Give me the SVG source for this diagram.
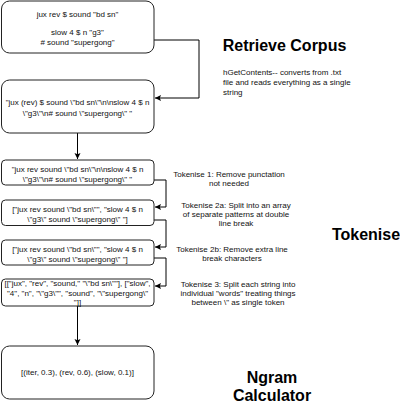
<svg xmlns="http://www.w3.org/2000/svg" width="400" height="405" viewBox="0 0 400 405">
<style>
.box{fill:#fff;stroke:#222;stroke-width:1}
.t{font-family:"Liberation Sans",Arial,sans-serif;font-size:8px;fill:#111;text-anchor:middle}
.d{font-family:"Liberation Sans",Arial,sans-serif;font-size:8px;fill:#111}
.h{font-family:"Liberation Sans",Arial,sans-serif;font-size:16px;font-weight:bold;fill:#000;text-anchor:middle}
.c{fill:none;stroke:#000;stroke-width:1}
</style>
<defs>
<marker id="arr" markerUnits="userSpaceOnUse" markerWidth="8" markerHeight="8" refX="6" refY="3" orient="auto">
<path d="M0,0 L6,3 L0,6 L1.2,3 z" fill="#000"/>
</marker>
</defs>
<rect width="400" height="405" fill="#fff"/>
<g id="connectors">
<path class="c" d="M154,40 H199 V98 H155" marker-end="url(#arr)"/>
<path class="c" d="M77.5,133 V159" marker-end="url(#arr)"/>
<path class="c" d="M154,180 H166 V207 H155" marker-end="url(#arr)"/>
<path class="c" d="M154,220 H166 V247 H155" marker-end="url(#arr)"/>
<path class="c" d="M154,258 H166 V286 H155" marker-end="url(#arr)"/>
<path class="c" d="M77.5,306 V345" marker-end="url(#arr)"/>
</g>
<g id="corpus">
<rect class="box" x="1.5" y="1" width="152.5" height="52" rx="8"/>
<text class="t" x="77.5" y="17">jux rev $ sound "bd sn"</text>
<text class="t" x="77.5" y="35">slow 4 $ n "g3"</text>
<text class="t" x="77.5" y="45"># sound "supergong"</text>
</g>
<g id="string">
<rect class="box" x="1.5" y="80" width="152.5" height="53" rx="8"/>
<text class="t" x="77.5" y="105">"jux (rev) $ sound \"bd sn\"\n\nslow 4 $ n</text>
<text class="t" x="77.5" y="115.5">\"g3\"\n# sound \"supergong\" "</text>
</g>
<g id="tok1">
<rect class="box" x="1.5" y="160" width="152.5" height="25" rx="4"/>
<text class="t" x="77.5" y="172">"jux rev sound \"bd sn\"\n\nslow 4 $ n</text>
<text class="t" x="77.5" y="182">\"g3\"\n# sound \"supergong\" "</text>
</g>
<g id="tok2a">
<rect class="box" x="1.5" y="200" width="152.5" height="25.5" rx="4"/>
<text class="t" x="77.5" y="212">["jux rev  sound \"bd sn\"", "slow 4 $ n</text>
<text class="t" x="77.5" y="221.5">\"g3\" sound \"supergong\" "]</text>
</g>
<g id="tok2b">
<rect class="box" x="1.5" y="240" width="152.5" height="25" rx="4"/>
<text class="t" x="77.5" y="252">["jux rev  sound \"bd sn\"", "slow 4 $ n</text>
<text class="t" x="77.5" y="261.5">\"g3\" sound \"supergong\" "]</text>
</g>
<g id="tok3">
<rect class="box" x="1.5" y="279" width="152.5" height="27" rx="4"/>
<text class="t" x="77.5" y="286">[["jux", "rev",  "sound,"  "\"bd sn\""], ["slow",</text>
<text class="t" x="77.5" y="295.5">"4",  "n", "\"g3\"", "sound", "\"supergong\"</text>
<text class="t" x="77.5" y="305">"]]</text>
</g>
<g id="ngram">
<rect class="box" x="1.5" y="346" width="152.5" height="53" rx="8"/>
<text class="t" x="77.5" y="375">[(iter, 0.3), (rev, 0.6), (slow, 0.1)]</text>
</g>
<g id="labels">
<text class="h" x="284.5" y="51">Retrieve Corpus</text>
<text class="d" x="223" y="74.5">hGetContents-- converts from .txt</text>
<text class="d" x="223" y="85">file and reads everything as a single</text>
<text class="d" x="223" y="95">string</text>
<text class="t" x="229" y="177">Tokenise 1: Remove punctation</text>
<text class="t" x="229" y="186">not needed</text>
<text class="t" x="236" y="207.5">Tokenise 2a: Split into an array</text>
<text class="t" x="236" y="216.5">of separate patterns at double</text>
<text class="t" x="236" y="225.5">line break</text>
<text class="h" x="366" y="240">Tokenise</text>
<text class="t" x="232" y="252">Tokenise 2b: Remove extra line</text>
<text class="t" x="232" y="261">break characters</text>
<text class="t" x="238" y="287">Tokenise 3: Split each string into</text>
<text class="t" x="238" y="296">individual "words" treating things</text>
<text class="t" x="238" y="305">between \" as single token</text>
<text class="h" x="272" y="383">Ngram</text>
<text class="h" x="272" y="401">Calculator</text>
</g>
</svg>
